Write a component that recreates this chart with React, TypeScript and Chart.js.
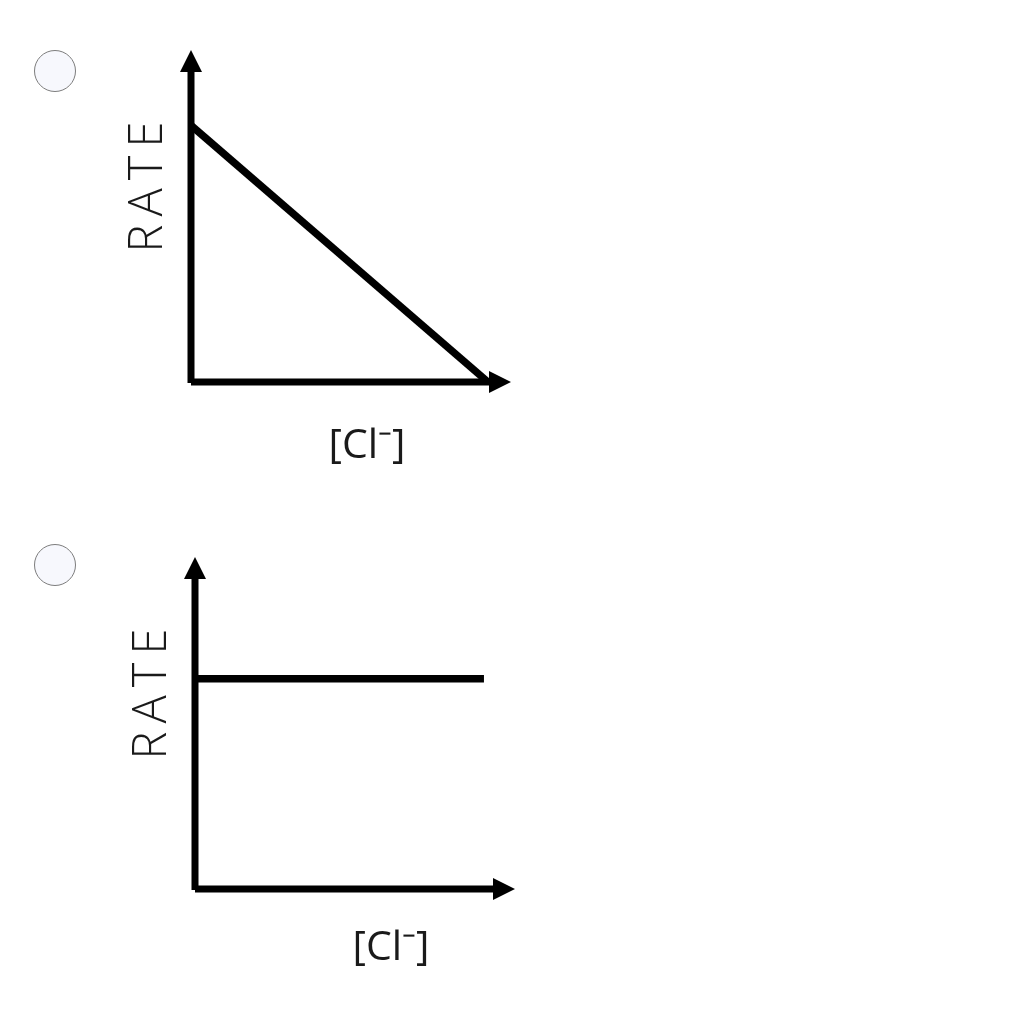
import { useEffect, useRef } from "react";
import { Chart, registerables } from "chart.js";

Chart.register(...registerables);

const xTitle = "[Cl⁻]";
const yTitle = "RATE";
const axisMin = 0;
const axisMax = 10;

// option 1: rate falls as [Cl-] rises
const decreasingX = [0, 9.28];
const decreasingRate = [7.73, 0];

// option 2: rate independent of [Cl-]
const constantX = [0, 9.03];
const constantRate = [6.33, 6.33];

const arrowAxes = {
  id: "arrowAxes",
  beforeDatasetsDraw(chart: any, _args: any, opts: any) {
    const { ctx, chartArea } = chart;
    const { left, right, top, bottom } = chartArea;
    ctx.save();
    ctx.strokeStyle = "#000";
    ctx.fillStyle = "#000";
    ctx.lineWidth = 7;
    ctx.lineCap = "butt";
    ctx.beginPath();
    ctx.moveTo(left, bottom + 1);
    ctx.lineTo(left, top + 18);
    ctx.moveTo(left, bottom);
    ctx.lineTo(right - 18, bottom);
    ctx.stroke();

    // arrow heads
    ctx.beginPath();
    ctx.moveTo(left, top);
    ctx.lineTo(left - 11, top + 22);
    ctx.lineTo(left + 11, top + 22);
    ctx.closePath();
    ctx.moveTo(right, bottom);
    ctx.lineTo(right - 22, bottom - 11);
    ctx.lineTo(right - 22, bottom + 11);
    ctx.closePath();
    ctx.fill();

    // axis titles
    ctx.fillStyle = "#1a1a1a";
    ctx.textAlign = "center";
    ctx.textBaseline = "middle";
    ctx.font = '300 47px "Open Sans"';
    (ctx as any).letterSpacing = "8px";
    ctx.save();
    ctx.translate(left - 42, top + 137);
    ctx.rotate(-Math.PI / 2);
    ctx.fillText(yTitle, 4, 0);
    ctx.restore();

    (ctx as any).letterSpacing = "0px";
    ctx.font = '41px "Open Sans"';
    ctx.fillText(xTitle, left + opts.xTitleDx, bottom + opts.xTitleDy);
    ctx.restore();
  },
};

interface RateChartProps {
  xs: number[];
  rates: number[];
  box: { left: number; top: number; width: number; height: number };
  padding: { left: number; top: number; right: number; bottom: number };
  xTitleDx: number;
  xTitleDy: number;
}

function RateChart({ xs, rates, box, padding, xTitleDx, xTitleDy }: RateChartProps) {
  const chartRef = useRef<HTMLCanvasElement>(null);
  const chartInstance = useRef<Chart | null>(null);

  useEffect(() => {
    if (!chartRef.current) return;
    if (chartInstance.current) chartInstance.current.destroy();

    chartInstance.current = new Chart(chartRef.current, {
      type: "line",
      data: {
        datasets: [
          {
            data: xs.map((x, i) => ({ x, y: rates[i] })),
            borderColor: "#000",
            borderWidth: 7.5,
            pointRadius: 0,
            tension: 0,
            fill: false,
            clip: false as any,
          },
        ],
      },
      options: {
        responsive: true,
        maintainAspectRatio: false,
        animation: false,
        events: [],
        layout: { padding },
        plugins: {
          legend: { display: false },
          tooltip: { enabled: false },
          arrowAxes: { xTitleDx, xTitleDy },
        } as any,
        scales: {
          x: { type: "linear", min: axisMin, max: axisMax, display: false },
          y: { type: "linear", min: axisMin, max: axisMax, display: false },
        },
      },
      plugins: [arrowAxes],
    });

    return () => {
      if (chartInstance.current) {
        chartInstance.current.destroy();
        chartInstance.current = null;
      }
    };
  }, [xs, rates]);

  return (
    <div style={{ position: "absolute", ...box }}>
      <canvas ref={chartRef}></canvas>
    </div>
  );
}

function Radio({ top }: { top: number }) {
  return (
    <div
      style={{
        position: "absolute",
        left: 34,
        top,
        width: 40,
        height: 40,
        borderRadius: "50%",
        border: "1.5px solid #7d7d7d",
        background: "#f7f8fd",
      }}
    />
  );
}

export default function App() {
  return (
    <div style={{ position: "absolute", left: 0, top: 0, width: 1015, height: 1024, background: "#fff" }}>
      <Radio top={50} />
      <RateChart
        xs={decreasingX}
        rates={decreasingRate}
        box={{ left: 100, top: 30, width: 440, height: 460 }}
        padding={{ left: 91, top: 20, right: 29, bottom: 108 }}
        xTitleDx={176}
        xTitleDy={64}
      />
      <Radio top={544} />
      <RateChart
        xs={constantX}
        rates={constantRate}
        box={{ left: 100, top: 530, width: 440, height: 470 }}
        padding={{ left: 95, top: 27, right: 25, bottom: 111 }}
        xTitleDx={196}
        xTitleDy={59}
      />
    </div>
  );
}
